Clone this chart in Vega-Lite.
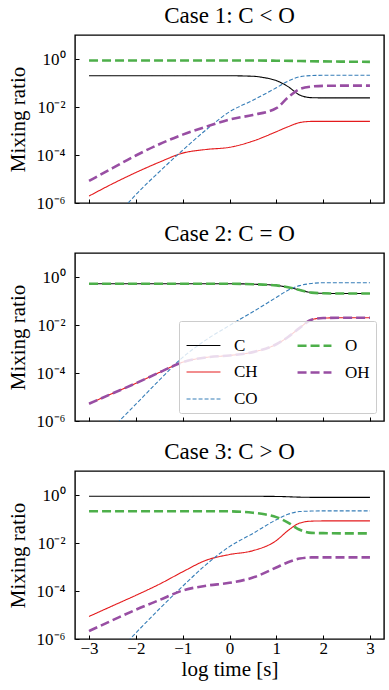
{
  "$schema": "https://vega.github.io/schema/vega-lite/v6.json",
  "padding": {"left": 6, "right": 10, "top": 4, "bottom": 2},
  "config": {
    "font": "Liberation Serif",
    "view": {"stroke": "#000000", "strokeWidth": 1.4},
    "axis": {"grid": false, "domain": false, "tickColor": "#000000", "tickSize": -4, "tickWidth": 1,
      "labelFont": "Liberation Serif", "labelFontSize": 17, "labelColor": "#000000",
      "titleFont": "Liberation Serif", "titleFontSize": 21, "titleFontWeight": "normal", "titleColor": "#000000"},
    "title": {"font": "Liberation Serif", "fontSize": 23, "fontWeight": "normal", "color": "#000000", "offset": 7, "baseline": "alphabetic"},
    "concat": {"spacing": 10}
  },
  "data": {"values": [
    {"case":1,"sp":"C","t":-3,"ratio":0.2},{"case":1,"sp":"C","t":-2,"ratio":0.2},{"case":1,"sp":"C","t":-1,"ratio":0.2},{"case":1,"sp":"C","t":0,"ratio":0.2},{"case":1,"sp":"C","t":0.5,"ratio":0.191},{"case":1,"sp":"C","t":0.75,"ratio":0.166},{"case":1,"sp":"C","t":1,"ratio":0.126},{"case":1,"sp":"C","t":1.25,"ratio":0.0708},{"case":1,"sp":"C","t":1.5,"ratio":0.0316},{"case":1,"sp":"C","t":1.75,"ratio":0.0245},{"case":1,"sp":"C","t":2,"ratio":0.024},{"case":1,"sp":"C","t":2.5,"ratio":0.024},{"case":1,"sp":"C","t":3,"ratio":0.024},
    {"case":1,"sp":"CH","t":-3,"ratio":1.95e-6},{"case":1,"sp":"CH","t":-2.5,"ratio":6.31e-6},{"case":1,"sp":"CH","t":-2,"ratio":1.86e-5},{"case":1,"sp":"CH","t":-1.5,"ratio":5.01e-5},{"case":1,"sp":"CH","t":-1,"ratio":1.2e-4},{"case":1,"sp":"CH","t":-0.5,"ratio":1.7e-4},{"case":1,"sp":"CH","t":0,"ratio":2.09e-4},{"case":1,"sp":"CH","t":0.5,"ratio":3.8e-4},{"case":1,"sp":"CH","t":1,"ratio":9.33e-4},{"case":1,"sp":"CH","t":1.25,"ratio":1.51e-3},{"case":1,"sp":"CH","t":1.5,"ratio":2.24e-3},{"case":1,"sp":"CH","t":1.75,"ratio":2.51e-3},{"case":1,"sp":"CH","t":2,"ratio":2.51e-3},{"case":1,"sp":"CH","t":2.5,"ratio":2.51e-3},{"case":1,"sp":"CH","t":3,"ratio":2.51e-3},
    {"case":1,"sp":"CO","t":-3,"ratio":1.26e-8},{"case":1,"sp":"CO","t":-2.5,"ratio":1.78e-7},{"case":1,"sp":"CO","t":-2,"ratio":2.24e-6},{"case":1,"sp":"CO","t":-1.5,"ratio":2.0e-5},{"case":1,"sp":"CO","t":-1,"ratio":1.58e-4},{"case":1,"sp":"CO","t":-0.5,"ratio":1.12e-3},{"case":1,"sp":"CO","t":0,"ratio":6.31e-3},{"case":1,"sp":"CO","t":0.5,"ratio":0.0191},{"case":1,"sp":"CO","t":1,"ratio":0.0631},{"case":1,"sp":"CO","t":1.25,"ratio":0.12},{"case":1,"sp":"CO","t":1.5,"ratio":0.182},{"case":1,"sp":"CO","t":1.75,"ratio":0.204},{"case":1,"sp":"CO","t":2,"ratio":0.209},{"case":1,"sp":"CO","t":2.5,"ratio":0.209},{"case":1,"sp":"CO","t":3,"ratio":0.209},
    {"case":1,"sp":"O","t":-3,"ratio":0.871},{"case":1,"sp":"O","t":-1,"ratio":0.871},{"case":1,"sp":"O","t":0,"ratio":0.871},{"case":1,"sp":"O","t":1,"ratio":0.851},{"case":1,"sp":"O","t":2,"ratio":0.794},{"case":1,"sp":"O","t":3,"ratio":0.759},
    {"case":1,"sp":"OH","t":-3,"ratio":8.32e-6},{"case":1,"sp":"OH","t":-2.5,"ratio":2.82e-5},{"case":1,"sp":"OH","t":-2,"ratio":9.55e-5},{"case":1,"sp":"OH","t":-1.5,"ratio":2.82e-4},{"case":1,"sp":"OH","t":-1,"ratio":7.08e-4},{"case":1,"sp":"OH","t":-0.5,"ratio":1.51e-3},{"case":1,"sp":"OH","t":0,"ratio":3.02e-3},{"case":1,"sp":"OH","t":0.5,"ratio":4.68e-3},{"case":1,"sp":"OH","t":1,"ratio":8.91e-3},{"case":1,"sp":"OH","t":1.25,"ratio":0.0251},{"case":1,"sp":"OH","t":1.5,"ratio":0.0562},{"case":1,"sp":"OH","t":1.75,"ratio":0.0708},{"case":1,"sp":"OH","t":2,"ratio":0.0759},{"case":1,"sp":"OH","t":2.5,"ratio":0.0776},{"case":1,"sp":"OH","t":3,"ratio":0.0776},

    {"case":2,"sp":"C","t":-3,"ratio":0.525},{"case":2,"sp":"C","t":-1,"ratio":0.525},{"case":2,"sp":"C","t":0,"ratio":0.525},{"case":2,"sp":"C","t":0.5,"ratio":0.501},{"case":2,"sp":"C","t":1,"ratio":0.447},{"case":2,"sp":"C","t":1.25,"ratio":0.372},{"case":2,"sp":"C","t":1.5,"ratio":0.288},{"case":2,"sp":"C","t":1.75,"ratio":0.224},{"case":2,"sp":"C","t":2,"ratio":0.209},{"case":2,"sp":"C","t":2.5,"ratio":0.204},{"case":2,"sp":"C","t":3,"ratio":0.204},
    {"case":2,"sp":"CH","t":-3,"ratio":5.25e-6},{"case":2,"sp":"CH","t":-2.5,"ratio":1.41e-5},{"case":2,"sp":"CH","t":-2,"ratio":3.72e-5},{"case":2,"sp":"CH","t":-1.5,"ratio":1.05e-4},{"case":2,"sp":"CH","t":-1,"ratio":2.82e-4},{"case":2,"sp":"CH","t":-0.5,"ratio":4.47e-4},{"case":2,"sp":"CH","t":0,"ratio":5.37e-4},{"case":2,"sp":"CH","t":0.5,"ratio":7.41e-4},{"case":2,"sp":"CH","t":1,"ratio":1.58e-3},{"case":2,"sp":"CH","t":1.25,"ratio":3.16e-3},{"case":2,"sp":"CH","t":1.5,"ratio":7.59e-3},{"case":2,"sp":"CH","t":1.75,"ratio":0.0166},{"case":2,"sp":"CH","t":2,"ratio":0.0195},{"case":2,"sp":"CH","t":2.5,"ratio":0.02},{"case":2,"sp":"CH","t":3,"ratio":0.02},
    {"case":2,"sp":"CO","t":-3,"ratio":3.98e-8},{"case":2,"sp":"CO","t":-2.5,"ratio":5.01e-7},{"case":2,"sp":"CO","t":-2,"ratio":5.01e-6},{"case":2,"sp":"CO","t":-1.5,"ratio":5.01e-5},{"case":2,"sp":"CO","t":-1,"ratio":4.47e-4},{"case":2,"sp":"CO","t":-0.5,"ratio":2.4e-3},{"case":2,"sp":"CO","t":0,"ratio":9.55e-3},{"case":2,"sp":"CO","t":0.5,"ratio":0.0355},{"case":2,"sp":"CO","t":1,"ratio":0.141},{"case":2,"sp":"CO","t":1.25,"ratio":0.282},{"case":2,"sp":"CO","t":1.5,"ratio":0.437},{"case":2,"sp":"CO","t":1.75,"ratio":0.537},{"case":2,"sp":"CO","t":2,"ratio":0.575},{"case":2,"sp":"CO","t":2.5,"ratio":0.575},{"case":2,"sp":"CO","t":3,"ratio":0.575},
    {"case":2,"sp":"O","t":-3,"ratio":0.525},{"case":2,"sp":"O","t":-1,"ratio":0.525},{"case":2,"sp":"O","t":0,"ratio":0.525},{"case":2,"sp":"O","t":0.5,"ratio":0.501},{"case":2,"sp":"O","t":1,"ratio":0.447},{"case":2,"sp":"O","t":1.25,"ratio":0.372},{"case":2,"sp":"O","t":1.5,"ratio":0.288},{"case":2,"sp":"O","t":1.75,"ratio":0.224},{"case":2,"sp":"O","t":2,"ratio":0.209},{"case":2,"sp":"O","t":2.5,"ratio":0.204},{"case":2,"sp":"O","t":3,"ratio":0.204},
    {"case":2,"sp":"OH","t":-3,"ratio":5.25e-6},{"case":2,"sp":"OH","t":-2.5,"ratio":1.41e-5},{"case":2,"sp":"OH","t":-2,"ratio":3.72e-5},{"case":2,"sp":"OH","t":-1.5,"ratio":1.05e-4},{"case":2,"sp":"OH","t":-1,"ratio":2.82e-4},{"case":2,"sp":"OH","t":-0.5,"ratio":4.47e-4},{"case":2,"sp":"OH","t":0,"ratio":5.37e-4},{"case":2,"sp":"OH","t":0.5,"ratio":7.41e-4},{"case":2,"sp":"OH","t":1,"ratio":1.58e-3},{"case":2,"sp":"OH","t":1.25,"ratio":3.16e-3},{"case":2,"sp":"OH","t":1.5,"ratio":7.59e-3},{"case":2,"sp":"OH","t":1.75,"ratio":0.0166},{"case":2,"sp":"OH","t":2,"ratio":0.0195},{"case":2,"sp":"OH","t":2.5,"ratio":0.02},{"case":2,"sp":"OH","t":3,"ratio":0.02},

    {"case":3,"sp":"C","t":-3,"ratio":0.891},{"case":3,"sp":"C","t":-1,"ratio":0.891},{"case":3,"sp":"C","t":0,"ratio":0.891},{"case":3,"sp":"C","t":1,"ratio":0.871},{"case":3,"sp":"C","t":1.5,"ratio":0.813},{"case":3,"sp":"C","t":2,"ratio":0.794},{"case":3,"sp":"C","t":3,"ratio":0.794},
    {"case":3,"sp":"CH","t":-3,"ratio":8.71e-6},{"case":3,"sp":"CH","t":-2.5,"ratio":2.4e-5},{"case":3,"sp":"CH","t":-2,"ratio":6.61e-5},{"case":3,"sp":"CH","t":-1.5,"ratio":1.91e-4},{"case":3,"sp":"CH","t":-1,"ratio":6.31e-4},{"case":3,"sp":"CH","t":-0.5,"ratio":1.91e-3},{"case":3,"sp":"CH","t":0,"ratio":3.31e-3},{"case":3,"sp":"CH","t":0.5,"ratio":4.79e-3},{"case":3,"sp":"CH","t":1,"ratio":0.0126},{"case":3,"sp":"CH","t":1.25,"ratio":0.0331},{"case":3,"sp":"CH","t":1.5,"ratio":0.0676},{"case":3,"sp":"CH","t":1.75,"ratio":0.0813},{"case":3,"sp":"CH","t":2,"ratio":0.0832},{"case":3,"sp":"CH","t":2.5,"ratio":0.0832},{"case":3,"sp":"CH","t":3,"ratio":0.0832},
    {"case":3,"sp":"CO","t":-3,"ratio":1.0e-8},{"case":3,"sp":"CO","t":-2.5,"ratio":1.58e-7},{"case":3,"sp":"CO","t":-2,"ratio":1.78e-6},{"case":3,"sp":"CO","t":-1.5,"ratio":1.78e-5},{"case":3,"sp":"CO","t":-1,"ratio":1.58e-4},{"case":3,"sp":"CO","t":-0.5,"ratio":1.26e-3},{"case":3,"sp":"CO","t":0,"ratio":7.08e-3},{"case":3,"sp":"CO","t":0.5,"ratio":0.0251},{"case":3,"sp":"CO","t":1,"ratio":0.0933},{"case":3,"sp":"CO","t":1.25,"ratio":0.158},{"case":3,"sp":"CO","t":1.5,"ratio":0.204},{"case":3,"sp":"CO","t":1.75,"ratio":0.214},{"case":3,"sp":"CO","t":2,"ratio":0.219},{"case":3,"sp":"CO","t":2.5,"ratio":0.219},{"case":3,"sp":"CO","t":3,"ratio":0.219},
    {"case":3,"sp":"O","t":-3,"ratio":0.209},{"case":3,"sp":"O","t":-1,"ratio":0.209},{"case":3,"sp":"O","t":0,"ratio":0.209},{"case":3,"sp":"O","t":0.5,"ratio":0.182},{"case":3,"sp":"O","t":0.75,"ratio":0.158},{"case":3,"sp":"O","t":1,"ratio":0.12},{"case":3,"sp":"O","t":1.25,"ratio":0.0708},{"case":3,"sp":"O","t":1.5,"ratio":0.0355},{"case":3,"sp":"O","t":1.75,"ratio":0.0263},{"case":3,"sp":"O","t":2,"ratio":0.0257},{"case":3,"sp":"O","t":2.5,"ratio":0.0251},{"case":3,"sp":"O","t":3,"ratio":0.0251},
    {"case":3,"sp":"OH","t":-3,"ratio":2.14e-6},{"case":3,"sp":"OH","t":-2.5,"ratio":6.03e-6},{"case":3,"sp":"OH","t":-2,"ratio":1.66e-5},{"case":3,"sp":"OH","t":-1.5,"ratio":4.17e-5},{"case":3,"sp":"OH","t":-1,"ratio":1.05e-4},{"case":3,"sp":"OH","t":-0.5,"ratio":1.66e-4},{"case":3,"sp":"OH","t":0,"ratio":2.19e-4},{"case":3,"sp":"OH","t":0.5,"ratio":3.63e-4},{"case":3,"sp":"OH","t":1,"ratio":9.55e-4},{"case":3,"sp":"OH","t":1.25,"ratio":1.58e-3},{"case":3,"sp":"OH","t":1.5,"ratio":2.24e-3},{"case":3,"sp":"OH","t":1.75,"ratio":2.51e-3},{"case":3,"sp":"OH","t":2,"ratio":2.51e-3},{"case":3,"sp":"OH","t":2.5,"ratio":2.51e-3},{"case":3,"sp":"OH","t":3,"ratio":2.51e-3}
  ]},
  "resolve": {"legend": {"color": "independent", "strokeDash": "independent", "strokeWidth": "independent"}},
  "vconcat": [
    {
      "title": "Case 1: C < O",
      "width": 309, "height": 168,
      "transform": [{"filter": "datum.case == 1"}],
      "mark": {"type": "line", "clip": true, "interpolate": "monotone"},
      "encoding": {
        "x": {"field": "t", "type": "quantitative", "scale": {"domain": [-3.3, 3.3], "nice": false, "zero": false}, "axis": {"values": [-3,-2,-1,0,1,2,3], "labels": false, "title": null}},
        "y": {"field": "ratio", "type": "quantitative", "scale": {"type": "log", "domain": [1e-6, 10], "nice": false}, "axis": {"values": [1e-6,1e-4,1e-2,1], "labelPadding": 14, "labelExpr": "datum.value > 0.5 ? '10⁰' : datum.value > 0.005 ? '10⁻²' : datum.value > 0.00005 ? '10⁻⁴' : '10⁻⁶'", "title": "Mixing ratio", "titlePadding": 8}},
        "color": {"field": "sp", "type": "nominal", "scale": {"domain": ["C","CH","CO","O","OH"], "range": ["#000000","#e41a1c","#377eb8","#4daf4a","#984ea3"]}, "legend": null},
        "strokeDash": {"field": "sp", "type": "nominal", "scale": {"domain": ["C","CH","CO","O","OH"], "range": [[1,0],[1,0],[4,2],[9,4],[9,4]]}, "legend": null},
        "strokeWidth": {"field": "sp", "type": "nominal", "scale": {"type": "ordinal", "domain": ["C","CH","CO","O","OH"], "range": [1.1,1.1,1.1,2.6,2.6]}, "legend": null}
      }
    },
    {
      "title": "Case 2: C = O",
      "width": 309, "height": 168,
      "transform": [{"filter": "datum.case == 2"}],
      "mark": {"type": "line", "clip": true, "interpolate": "monotone"},
      "encoding": {
        "x": {"field": "t", "type": "quantitative", "scale": {"domain": [-3.3, 3.3], "nice": false, "zero": false}, "axis": {"values": [-3,-2,-1,0,1,2,3], "labels": false, "title": null}},
        "y": {"field": "ratio", "type": "quantitative", "scale": {"type": "log", "domain": [1e-6, 10], "nice": false}, "axis": {"values": [1e-6,1e-4,1e-2,1], "labelPadding": 14, "labelExpr": "datum.value > 0.5 ? '10⁰' : datum.value > 0.005 ? '10⁻²' : datum.value > 0.00005 ? '10⁻⁴' : '10⁻⁶'", "title": "Mixing ratio", "titlePadding": 8}},
        "color": {"field": "sp", "type": "nominal", "scale": {"domain": ["C","CH","CO","O","OH"], "range": ["#000000","#e41a1c","#377eb8","#4daf4a","#984ea3"]},
          "legend": {"title": null, "orient": "bottom-right", "offset": 8, "columns": 2, "columnPadding": 34, "rowPadding": -11, "symbolType": "stroke", "symbolSize": 1150, "labelFont": "Liberation Serif", "labelFontSize": 17, "labelColor": "#000000", "labelOffset": 12, "fillColor": "rgba(255,255,255,0.8)", "strokeColor": "#cccccc", "padding": 6, "cornerRadius": 2}},
        "strokeDash": {"field": "sp", "type": "nominal", "scale": {"domain": ["C","CH","CO","O","OH"], "range": [[1,0],[1,0],[4,2],[9,4],[9,4]]}},
        "strokeWidth": {"field": "sp", "type": "nominal", "scale": {"type": "ordinal", "domain": ["C","CH","CO","O","OH"], "range": [1.1,1.1,1.1,2.6,2.6]}}
      }
    },
    {
      "title": "Case 3: C > O",
      "width": 309, "height": 168,
      "transform": [{"filter": "datum.case == 3"}],
      "mark": {"type": "line", "clip": true, "interpolate": "monotone"},
      "encoding": {
        "x": {"field": "t", "type": "quantitative", "scale": {"domain": [-3.3, 3.3], "nice": false, "zero": false}, "axis": {"values": [-3,-2,-1,0,1,2,3], "labelPadding": 5, "title": "log time [s]", "titlePadding": 2}},
        "y": {"field": "ratio", "type": "quantitative", "scale": {"type": "log", "domain": [1e-6, 10], "nice": false}, "axis": {"values": [1e-6,1e-4,1e-2,1], "labelPadding": 14, "labelExpr": "datum.value > 0.5 ? '10⁰' : datum.value > 0.005 ? '10⁻²' : datum.value > 0.00005 ? '10⁻⁴' : '10⁻⁶'", "title": "Mixing ratio", "titlePadding": 8}},
        "color": {"field": "sp", "type": "nominal", "scale": {"domain": ["C","CH","CO","O","OH"], "range": ["#000000","#e41a1c","#377eb8","#4daf4a","#984ea3"]}, "legend": null},
        "strokeDash": {"field": "sp", "type": "nominal", "scale": {"domain": ["C","CH","CO","O","OH"], "range": [[1,0],[1,0],[4,2],[9,4],[9,4]]}, "legend": null},
        "strokeWidth": {"field": "sp", "type": "nominal", "scale": {"type": "ordinal", "domain": ["C","CH","CO","O","OH"], "range": [1.1,1.1,1.1,2.6,2.6]}, "legend": null}
      }
    }
  ]
}
